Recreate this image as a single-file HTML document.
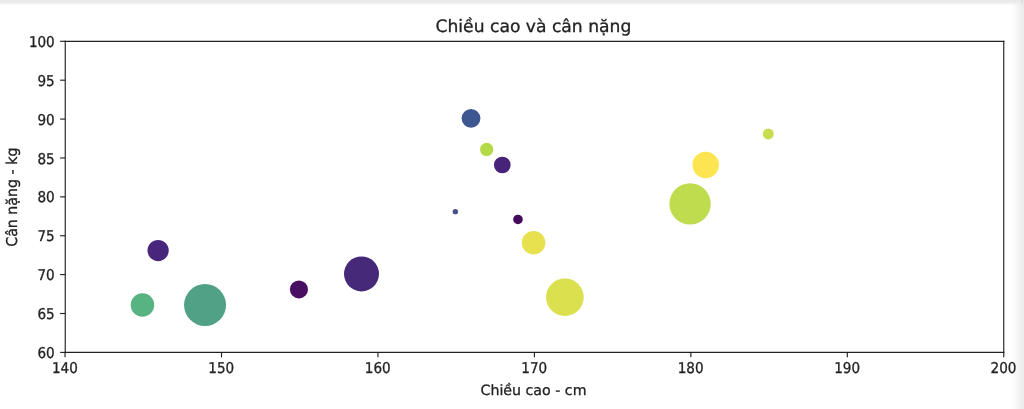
<!DOCTYPE html>
<html lang="vi"><head><meta charset="utf-8"><title>Chiều cao và cân nặng</title>
<style>
html,body{margin:0;padding:0;background:#fff;}
body{width:1024px;height:409px;overflow:hidden;position:relative;font-family:"DejaVu Sans","Liberation Sans",sans-serif;}
#topbar{position:absolute;left:0;top:0;width:1024px;height:5px;background:linear-gradient(to bottom,#e8e8e8 0,#ededed 3px,rgba(240,240,240,0) 5.2px);}
#corner{position:absolute;left:1021px;top:0;width:2px;height:5px;background:linear-gradient(to bottom,#dcdcdc 0,#e0e0e0 3px,rgba(235,235,235,0) 5px);}
#rightbar{position:absolute;left:1011px;top:0;width:13px;height:409px;background:linear-gradient(to right,#ffffff 0.5px,#f6f6f6 6px,#eeeeee 10px,#ebebeb 13px);}
svg{position:absolute;left:0;top:0;}
text{font-family:"DejaVu Sans","Liberation Sans",sans-serif;fill:#222;stroke:#222;stroke-width:0.3px;text-rendering:geometricPrecision;}
</style></head><body>
<div id="rightbar"></div><div id="topbar"></div><div id="corner"></div>
<svg width="1024" height="409" viewBox="0 0 1024 409">

<g id="points">
<circle cx="158.12" cy="250.54" r="10.65" fill="#48267b"/>
<circle cx="142.47" cy="304.98" r="11.75" fill="#57b382"/>
<circle cx="205.06" cy="304.98" r="21.00" fill="#50a186"/>
<circle cx="298.93" cy="289.43" r="9.05" fill="#480f62"/>
<circle cx="361.50" cy="273.88" r="17.50" fill="#47297a"/>
<circle cx="471.02" cy="118.33" r="9.40" fill="#3f5791"/>
<circle cx="486.67" cy="149.44" r="6.65" fill="#b4da48"/>
<circle cx="502.31" cy="164.99" r="8.35" fill="#47237a"/>
<circle cx="455.38" cy="211.66" r="2.70" fill="#4a5088"/>
<circle cx="517.96" cy="219.43" r="4.80" fill="#440a5b"/>
<circle cx="533.60" cy="242.76" r="11.80" fill="#e7e04f"/>
<circle cx="564.89" cy="297.21" r="18.80" fill="#dae04e"/>
<circle cx="690.05" cy="203.88" r="20.70" fill="#bfdc4f"/>
<circle cx="705.70" cy="164.99" r="13.25" fill="#fce550"/>
<circle cx="768.27" cy="133.88" r="5.50" fill="#c8dc50"/>
</g>
<g stroke="#222" stroke-width="1.15" fill="none">
<line x1="65.25" y1="40.72" x2="65.25" y2="352.97"/>
<line x1="1003.75" y1="40.72" x2="1003.75" y2="352.97"/>
<line x1="64.67" y1="41.3" x2="1004.33" y2="41.3"/>
<line x1="64.67" y1="352.4" x2="1004.33" y2="352.4"/>
</g>
<g stroke="#222" stroke-width="1.15">
<line x1="65.05" y1="352.4" x2="65.05" y2="357.30"/>
<line x1="221.50" y1="352.4" x2="221.50" y2="357.30"/>
<line x1="377.95" y1="352.4" x2="377.95" y2="357.30"/>
<line x1="534.40" y1="352.4" x2="534.40" y2="357.30"/>
<line x1="690.85" y1="352.4" x2="690.85" y2="357.30"/>
<line x1="847.30" y1="352.4" x2="847.30" y2="357.30"/>
<line x1="1003.75" y1="352.4" x2="1003.75" y2="357.30"/>
<line x1="65.05" y1="352.40" x2="60.15" y2="352.40"/>
<line x1="65.05" y1="313.51" x2="60.15" y2="313.51"/>
<line x1="65.05" y1="274.62" x2="60.15" y2="274.62"/>
<line x1="65.05" y1="235.74" x2="60.15" y2="235.74"/>
<line x1="65.05" y1="196.85" x2="60.15" y2="196.85"/>
<line x1="65.05" y1="157.96" x2="60.15" y2="157.96"/>
<line x1="65.05" y1="119.08" x2="60.15" y2="119.08"/>
<line x1="65.05" y1="80.19" x2="60.15" y2="80.19"/>
<line x1="65.05" y1="41.30" x2="60.15" y2="41.30"/>
</g>
<g font-size="14.2" text-anchor="middle">
<text transform="translate(64.85,373.39) scale(0.955,1.05)">140</text>
<text transform="translate(221.30,373.39) scale(0.955,1.05)">150</text>
<text transform="translate(377.75,373.39) scale(0.955,1.05)">160</text>
<text transform="translate(534.20,373.39) scale(0.955,1.05)">170</text>
<text transform="translate(690.65,373.39) scale(0.955,1.05)">180</text>
<text transform="translate(847.10,373.39) scale(0.955,1.05)">190</text>
<text transform="translate(1003.55,373.39) scale(0.955,1.05)">200</text>
</g>
<g font-size="14.2" text-anchor="end">
<text transform="translate(54.75,358.00) scale(0.955,1.05)">60</text>
<text transform="translate(54.75,319.11) scale(0.955,1.05)">65</text>
<text transform="translate(54.75,280.22) scale(0.955,1.05)">70</text>
<text transform="translate(54.75,241.33) scale(0.955,1.05)">75</text>
<text transform="translate(54.75,202.45) scale(0.955,1.05)">80</text>
<text transform="translate(54.75,163.56) scale(0.955,1.05)">85</text>
<text transform="translate(54.75,124.67) scale(0.955,1.05)">90</text>
<text transform="translate(54.75,85.78) scale(0.955,1.05)">95</text>
<text transform="translate(54.75,46.90) scale(0.955,1.05)">100</text>
</g>
<text x="533.40" y="32.1" font-size="17.15" text-anchor="middle">Chiều cao và cân nặng</text>
<text x="533.50" y="394.6" font-size="14.2" text-anchor="middle">Chiều cao - cm</text>
<text transform="translate(17.4,197.15) rotate(-90) scale(1,1.05)" font-size="14.2" text-anchor="middle">Cân nặng - kg</text>
</svg></body></html>
